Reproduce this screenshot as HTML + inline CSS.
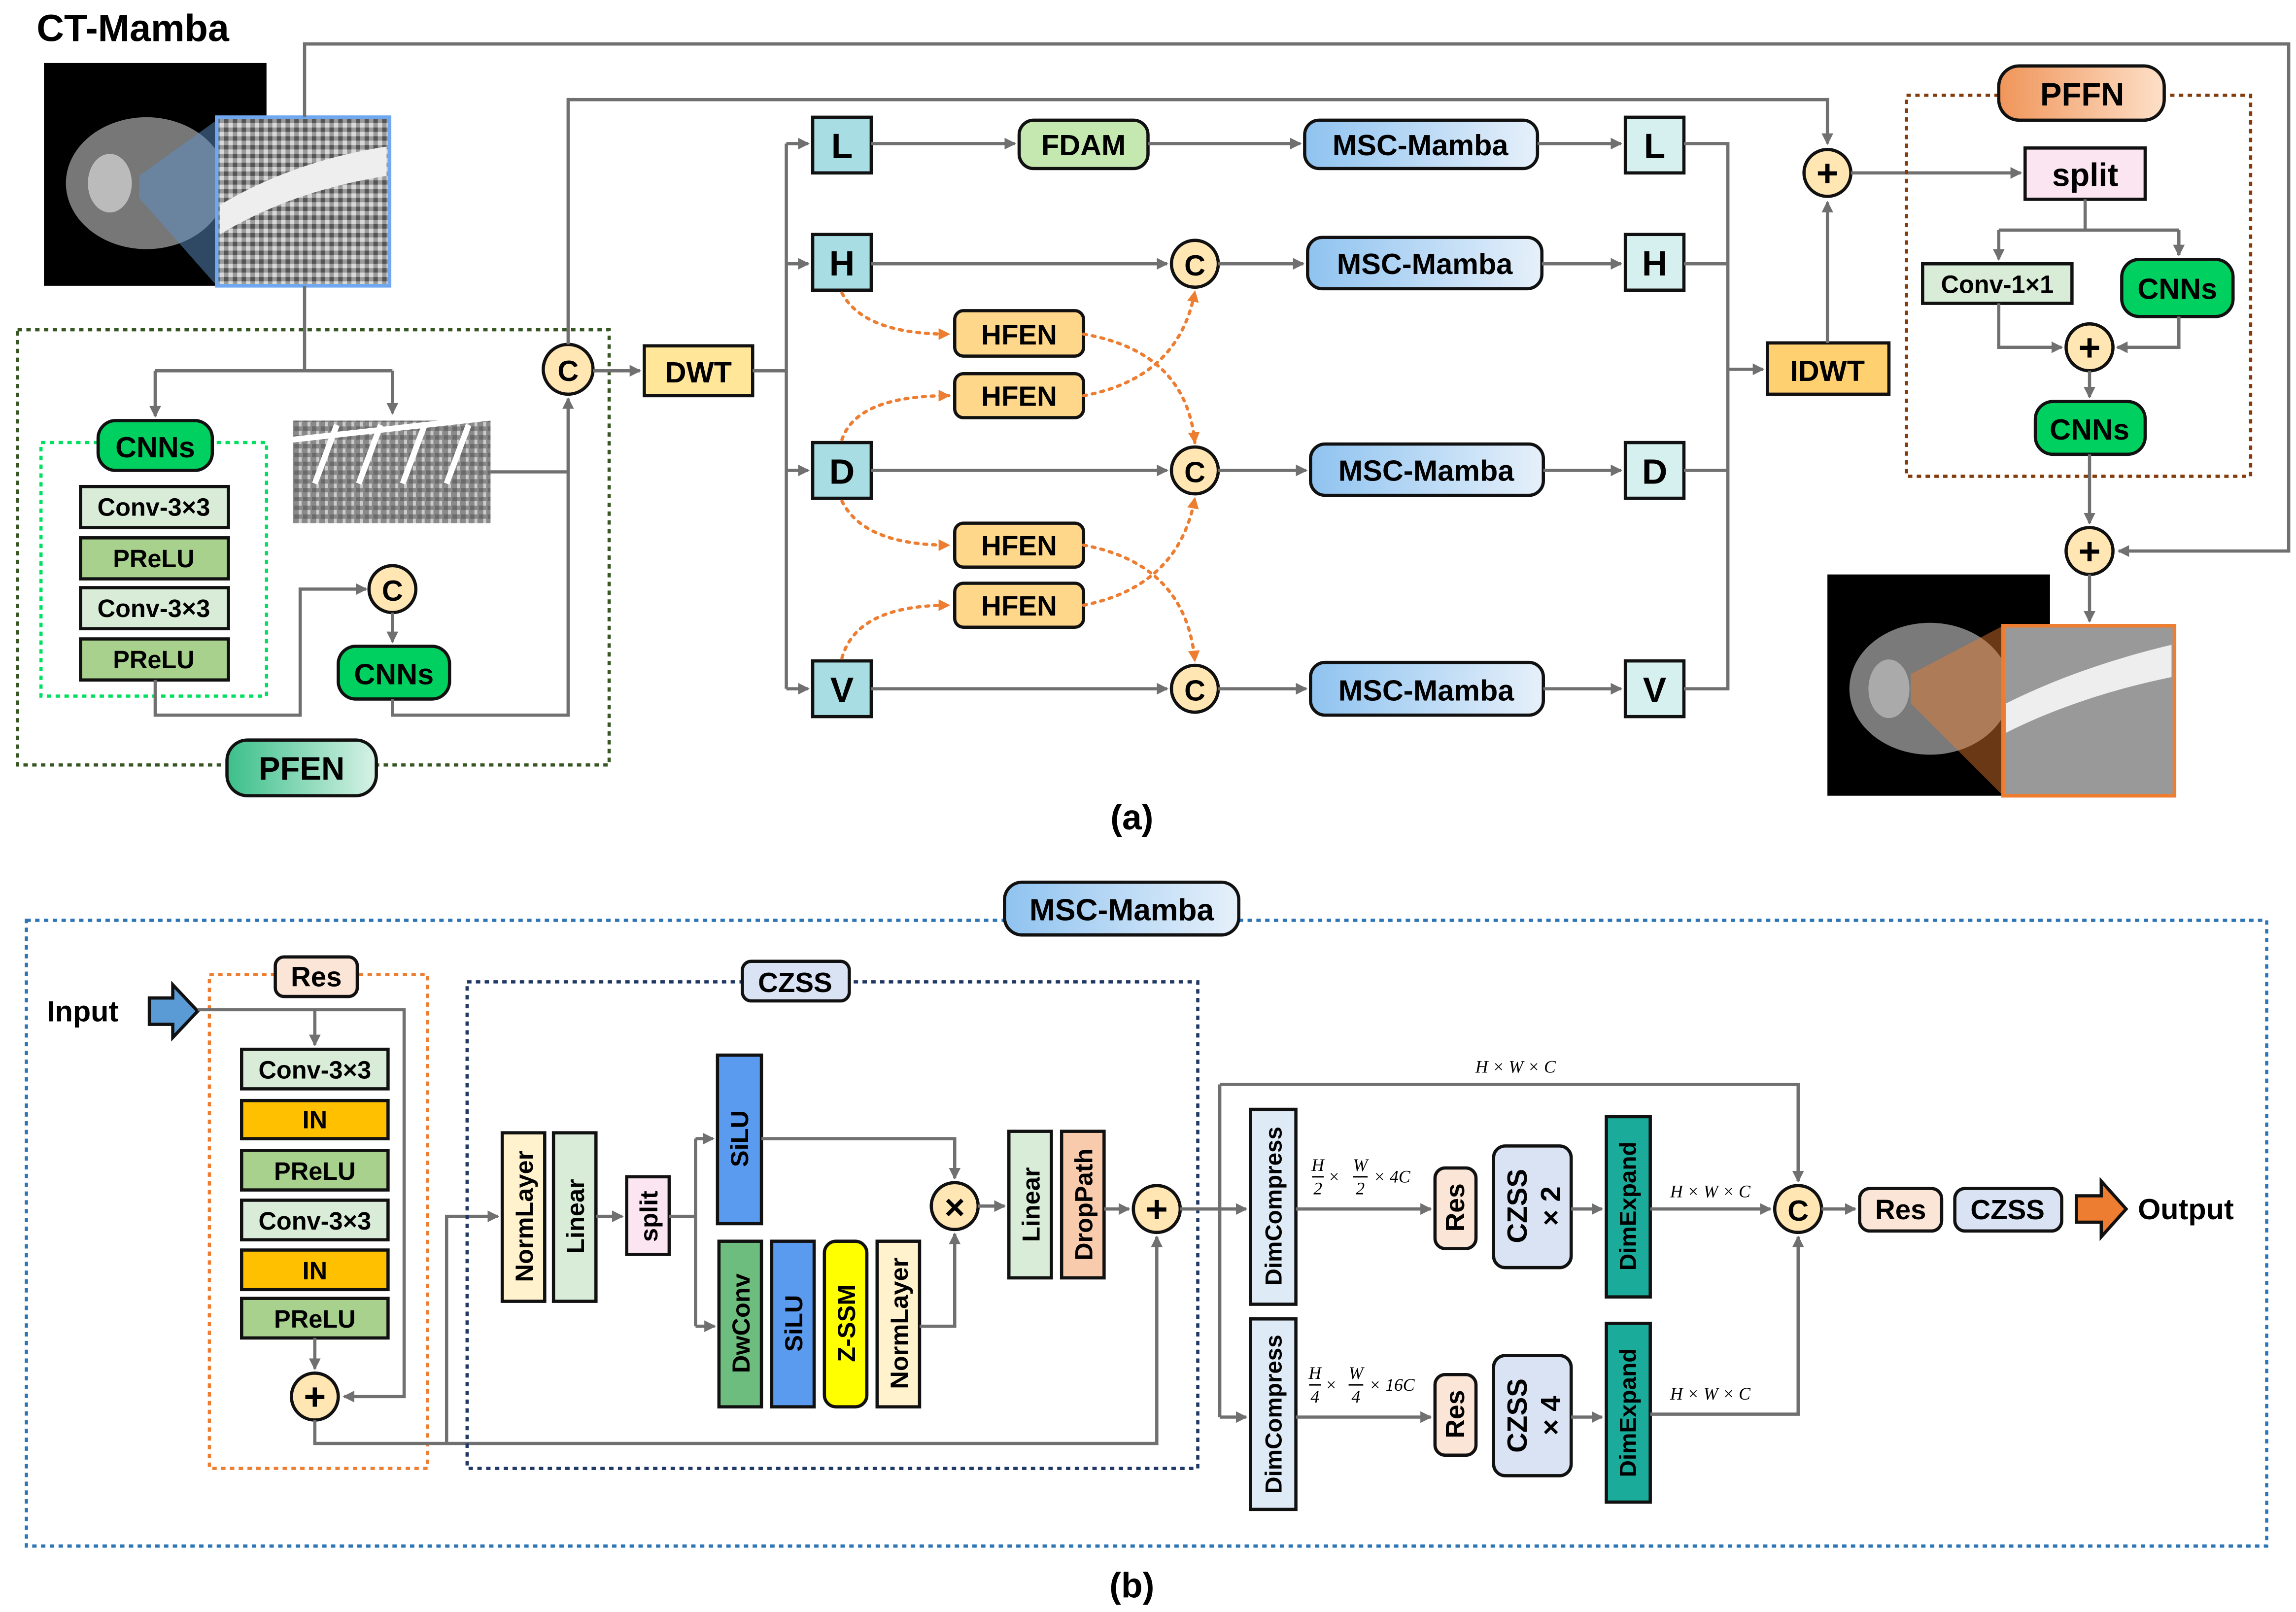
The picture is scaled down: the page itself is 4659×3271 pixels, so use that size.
<!DOCTYPE html>
<html><head><meta charset="utf-8"><style>
html,body{margin:0;padding:0;background:#fff}
svg{display:block}
text{font-family:"Liberation Sans",sans-serif;font-weight:bold;fill:#000}
.l{stroke:#707070;stroke-width:2.2;fill:none}
.o{stroke:#ed7d31;stroke-width:2.2;fill:none;stroke-dasharray:2,4;stroke-linecap:round}
.b{stroke:#111;stroke-width:2.2}
.it{font-family:"Liberation Serif",serif;font-style:italic;font-weight:normal;font-size:12px}
.fb{stroke:#000;stroke-width:1}
</style></head><body>
<svg width="4659" height="3271" viewBox="0 0 1568 1100" preserveAspectRatio="none" xmlns="http://www.w3.org/2000/svg">
<defs>
<marker id="a" markerWidth="8" markerHeight="8" refX="7" refY="4" orient="auto" markerUnits="userSpaceOnUse"><path d="M0,0 L8,4 L0,8 z" fill="#707070"/></marker>
<marker id="ao" markerWidth="8" markerHeight="8" refX="7" refY="4" orient="auto" markerUnits="userSpaceOnUse"><path d="M0,0 L8,4 L0,8 z" fill="#ed7d31"/></marker>
<linearGradient id="msc" x1="0" x2="1"><stop offset="0" stop-color="#8fc3f0"/><stop offset="1" stop-color="#e6f0fa"/></linearGradient>
<linearGradient id="pfen" x1="0" x2="1"><stop offset="0" stop-color="#3cbf8a"/><stop offset="1" stop-color="#d6f2e6"/></linearGradient>
<linearGradient id="pffn" x1="0" x2="1"><stop offset="0" stop-color="#f0955a"/><stop offset="1" stop-color="#fde0c8"/></linearGradient>
<pattern id="noise" width="6" height="6" patternUnits="userSpaceOnUse"><rect width="6" height="6" fill="#9a9a9a"/><rect width="3" height="3" fill="#d8d8d8"/><rect x="3" y="3" width="3" height="3" fill="#555"/></pattern>
<pattern id="noise2" width="6" height="6" patternUnits="userSpaceOnUse"><rect width="6" height="6" fill="#8a8a8a"/><rect width="2" height="3" fill="#ccc"/><rect x="3" y="3" width="3" height="3" fill="#6a6a6a"/></pattern>
</defs>

<text x="25" y="28" font-size="26">CT-Mamba</text>
<rect x="30" y="43" width="152" height="152" fill="#000"/>
<ellipse cx="100" cy="125" rx="55" ry="45" fill="#777"/>
<ellipse cx="75" cy="125" rx="15" ry="20" fill="#bbb"/>
<path d="M95,120 L148,82 L148,195 L95,135 z" fill="#5e8fc8" opacity="0.5"/>
<rect x="148" y="80" width="118" height="115" fill="url(#noise)" stroke="#6fa8f0" stroke-width="2.5"/>
<path d="M150,140 Q200,110 264,100 L264,120 Q200,130 150,160 z" fill="#eee"/>

<polyline class="l" points="208,80 208,30 1563,30 1563,376 1447,376" marker-end="url(#a)"/>

<rect x="12" y="225" width="404" height="297" fill="none" stroke="#375623" stroke-width="2.2" stroke-dasharray="3,3"/>
<rect x="28" y="302" width="154" height="173" fill="none" stroke="#00e060" stroke-width="2.2" stroke-dasharray="3,3"/>
<polyline class="l" points="208,195 208,253"/>
<polyline class="l" points="106,253 268,253"/>
<polyline class="l" points="106,253 106,284" marker-end="url(#a)"/>
<polyline class="l" points="268,253 268,282" marker-end="url(#a)"/>
<rect x="67" y="287" width="78" height="34" rx="12" fill="#00d060" class="b"/>
<text x="106" y="312" font-size="20" text-anchor="middle">CNNs</text>
<rect x="55" y="332" width="101" height="28" fill="#d8ecd8" class="b"/><text x="105" y="352" font-size="17" text-anchor="middle">Conv-3×3</text>
<rect x="55" y="367" width="101" height="28" fill="#a9d18e" class="b"/><text x="105" y="387" font-size="17" text-anchor="middle">PReLU</text>
<rect x="55" y="401" width="101" height="28" fill="#d8ecd8" class="b"/><text x="105" y="421" font-size="17" text-anchor="middle">Conv-3×3</text>
<rect x="55" y="436" width="101" height="28" fill="#a9d18e" class="b"/><text x="105" y="456" font-size="17" text-anchor="middle">PReLU</text>
<polyline class="l" points="106,464 106,488 205,488 205,402 250,402" marker-end="url(#a)"/>
<g>
<rect x="200" y="287" width="135" height="70" fill="url(#noise2)"/>
<path d="M200,300 L335,285 M215,330 L230,290 M245,330 L260,290 M275,330 L290,290 M305,330 L320,290" stroke="#fff" stroke-width="4"/>
</g>
<polyline class="l" points="335,322 388,322"/>
<circle cx="268" cy="402" r="16" fill="#ffe6b3" class="b"/><text x="268" y="410" font-size="20" text-anchor="middle">C</text>
<polyline class="l" points="268,418 268,438" marker-end="url(#a)"/>
<rect x="231" y="441" width="76" height="36" rx="12" fill="#00d060" class="b"/>
<text x="269" y="467" font-size="20" text-anchor="middle">CNNs</text>
<polyline class="l" points="268,477 268,488 388,488 388,272" marker-end="url(#a)"/>
<rect x="155" y="505" width="102" height="38" rx="14" fill="url(#pfen)" class="b"/>
<text x="206" y="532" font-size="22" text-anchor="middle">PFEN</text>

<circle cx="388" cy="252" r="17" fill="#ffe6b3" class="b"/><text x="388" y="260" font-size="20" text-anchor="middle">C</text>
<polyline class="l" points="388,235 388,68 1248,68 1248,98" marker-end="url(#a)"/>
<polyline class="l" points="405,253 437,253" marker-end="url(#a)"/>
<rect x="440" y="236" width="74" height="34" fill="#ffe699" class="b"/><text x="477" y="261" font-size="20" text-anchor="middle">DWT</text>

<polyline class="l" points="514,253 537,253"/>
<polyline class="l" points="537,98 537,470"/>
<polyline class="l" points="537,98 552,98" marker-end="url(#a)"/>
<polyline class="l" points="537,180 552,180" marker-end="url(#a)"/>
<polyline class="l" points="537,321 552,321" marker-end="url(#a)"/>
<polyline class="l" points="537,470 552,470" marker-end="url(#a)"/>
<rect x="555" y="80" width="40" height="38" fill="#a8dde3" class="b"/><text x="575" y="108" text-anchor="middle" font-size="24">L</text>
<rect x="555" y="160" width="40" height="38" fill="#a8dde3" class="b"/><text x="575" y="188" text-anchor="middle" font-size="24">H</text>
<rect x="555" y="302" width="40" height="38" fill="#a8dde3" class="b"/><text x="575" y="330" text-anchor="middle" font-size="24">D</text>
<rect x="555" y="451" width="40" height="38" fill="#a8dde3" class="b"/><text x="575" y="479" text-anchor="middle" font-size="24">V</text>
<polyline class="l" points="595,98 693,98" marker-end="url(#a)"/>
<rect x="696" y="82" width="88" height="33" rx="10" fill="#c5e8b0" class="b"/><text x="740" y="106" font-size="20" text-anchor="middle">FDAM</text>
<polyline class="l" points="784,98 888,98" marker-end="url(#a)"/>
<polyline class="l" points="595,180 797,180" marker-end="url(#a)"/>
<polyline class="l" points="595,321 797,321" marker-end="url(#a)"/>
<polyline class="l" points="595,470 797,470" marker-end="url(#a)"/>
<circle cx="816" cy="180" r="16" fill="#ffe6b3" class="b"/><text x="816" y="188" font-size="20" text-anchor="middle">C</text>
<circle cx="816" cy="321" r="16" fill="#ffe6b3" class="b"/><text x="816" y="329" font-size="20" text-anchor="middle">C</text>
<circle cx="816" cy="470" r="16" fill="#ffe6b3" class="b"/><text x="816" y="478" font-size="20" text-anchor="middle">C</text>
<polyline class="l" points="832,180 890,180" marker-end="url(#a)"/>
<polyline class="l" points="832,321 892,321" marker-end="url(#a)"/>
<polyline class="l" points="832,470 892,470" marker-end="url(#a)"/>
<rect x="891" y="82" width="159" height="33" rx="10" fill="url(#msc)" class="b"/><text x="970" y="106" font-size="20" text-anchor="middle">MSC-Mamba</text>
<rect x="893" y="162" width="160" height="35" rx="10" fill="url(#msc)" class="b"/><text x="973" y="187" font-size="20" text-anchor="middle">MSC-Mamba</text>
<rect x="895" y="303" width="159" height="35" rx="10" fill="url(#msc)" class="b"/><text x="974" y="328" font-size="20" text-anchor="middle">MSC-Mamba</text>
<rect x="895" y="452" width="159" height="36" rx="10" fill="url(#msc)" class="b"/><text x="974" y="478" font-size="20" text-anchor="middle">MSC-Mamba</text>
<polyline class="l" points="1050,98 1107,98" marker-end="url(#a)"/>
<polyline class="l" points="1053,180 1107,180" marker-end="url(#a)"/>
<polyline class="l" points="1054,321 1107,321" marker-end="url(#a)"/>
<polyline class="l" points="1054,470 1107,470" marker-end="url(#a)"/>
<rect x="1110" y="80" width="40" height="38" fill="#d5f0ee" class="b"/><text x="1130" y="108" text-anchor="middle" font-size="24">L</text>
<rect x="1110" y="160" width="40" height="38" fill="#d5f0ee" class="b"/><text x="1130" y="188" text-anchor="middle" font-size="24">H</text>
<rect x="1110" y="302" width="40" height="38" fill="#d5f0ee" class="b"/><text x="1130" y="330" text-anchor="middle" font-size="24">D</text>
<rect x="1110" y="451" width="40" height="38" fill="#d5f0ee" class="b"/><text x="1130" y="479" text-anchor="middle" font-size="24">V</text>
<polyline class="l" points="1150,98 1180,98 1180,470 1150,470"/>
<polyline class="l" points="1150,180 1180,180"/><polyline class="l" points="1150,321 1180,321"/>
<polyline class="l" points="1180,252 1204,252" marker-end="url(#a)"/>

<rect x="652" y="212" width="88" height="31" rx="6" fill="#ffd78a" class="b"/><text x="696" y="235" font-size="19" text-anchor="middle">HFEN</text>
<rect x="652" y="255" width="88" height="30" rx="6" fill="#ffd78a" class="b"/><text x="696" y="277" font-size="19" text-anchor="middle">HFEN</text>
<rect x="652" y="357" width="88" height="30" rx="6" fill="#ffd78a" class="b"/><text x="696" y="379" font-size="19" text-anchor="middle">HFEN</text>
<rect x="652" y="398" width="88" height="30" rx="6" fill="#ffd78a" class="b"/><text x="696" y="420" font-size="19" text-anchor="middle">HFEN</text>
<path class="o" d="M575,200 Q590,228 648,228" marker-end="url(#ao)"/>
<path class="o" d="M740,228 Q810,240 816,302" marker-end="url(#ao)"/>
<path class="o" d="M575,300 Q585,270 648,270" marker-end="url(#ao)"/>
<path class="o" d="M740,270 Q805,258 816,199" marker-end="url(#ao)"/>
<path class="o" d="M575,342 Q590,372 648,372" marker-end="url(#ao)"/>
<path class="o" d="M740,372 Q810,385 816,451" marker-end="url(#ao)"/>
<path class="o" d="M575,449 Q585,413 648,413" marker-end="url(#ao)"/>
<path class="o" d="M740,413 Q805,400 816,340" marker-end="url(#ao)"/>

<rect x="1207" y="234" width="83" height="35" fill="#ffd070" class="b"/><text x="1248" y="260" font-size="20" text-anchor="middle">IDWT</text>
<polyline class="l" points="1248,234 1248,138" marker-end="url(#a)"/>
<circle cx="1248" cy="118" r="16" fill="#ffe6b3" class="b"/><text x="1248" y="127" font-size="26" text-anchor="middle" font-weight="normal">+</text>
<polyline class="l" points="1264,118 1380,118" marker-end="url(#a)"/>
<rect x="1302" y="65" width="235" height="260" fill="none" stroke="#843c0c" stroke-width="2.2" stroke-dasharray="3,3"/>
<rect x="1365" y="45" width="113" height="37" rx="14" fill="url(#pffn)" class="b"/><text x="1422" y="72" font-size="22" text-anchor="middle">PFFN</text>
<rect x="1383" y="101" width="82" height="35" fill="#fbe5f0" class="b"/><text x="1424" y="127" font-size="22" text-anchor="middle">split</text>
<polyline class="l" points="1424,136 1424,157"/>
<polyline class="l" points="1365,157 1488,157"/>
<polyline class="l" points="1365,157 1365,177" marker-end="url(#a)"/>
<polyline class="l" points="1488,157 1488,174" marker-end="url(#a)"/>
<rect x="1313" y="180" width="102" height="27" fill="#d8ecd8" class="b"/><text x="1364" y="200" font-size="17" text-anchor="middle">Conv-1×1</text>
<rect x="1449" y="177" width="76" height="39" rx="12" fill="#00d060" class="b"/><text x="1487" y="204" font-size="20" text-anchor="middle">CNNs</text>
<polyline class="l" points="1365,207 1365,237 1408,237" marker-end="url(#a)"/>
<polyline class="l" points="1488,216 1488,237 1446,237" marker-end="url(#a)"/>
<circle cx="1427" cy="237" r="16" fill="#ffe6b3" class="b"/><text x="1427" y="246" font-size="26" text-anchor="middle" font-weight="normal">+</text>
<polyline class="l" points="1427,253 1427,271" marker-end="url(#a)"/>
<rect x="1390" y="274" width="75" height="36" rx="12" fill="#00d060" class="b"/><text x="1427" y="300" font-size="20" text-anchor="middle">CNNs</text>
<polyline class="l" points="1427,310 1427,357" marker-end="url(#a)"/>
<circle cx="1427" cy="376" r="16" fill="#ffe6b3" class="b"/><text x="1427" y="385" font-size="26" text-anchor="middle" font-weight="normal">+</text>
<polyline class="l" points="1427,392 1427,424" marker-end="url(#a)"/>
<rect x="1248" y="392" width="152" height="151" fill="#000"/>
<ellipse cx="1318" cy="470" rx="55" ry="45" fill="#7a7a7a"/>
<ellipse cx="1290" cy="470" rx="14" ry="20" fill="#aaa"/>
<path d="M1305,460 L1368,427 L1368,543 L1305,480 z" fill="#ed7d31" opacity="0.45"/>
<rect x="1368" y="427" width="117" height="116" fill="#999" stroke="#ed7d31" stroke-width="2.5"/>
<path d="M1370,480 Q1420,455 1483,440 L1483,462 Q1420,475 1370,500 z" fill="#eee"/>
<text x="773" y="566" font-size="24" text-anchor="middle">(a)</text>

<rect x="18" y="628" width="1530" height="427" fill="none" stroke="#2e75b6" stroke-width="2.2" stroke-dasharray="3,3"/>
<rect x="686" y="602" width="160" height="36" rx="12" fill="url(#msc)" class="b"/><text x="766" y="628" font-size="21" text-anchor="middle">MSC-Mamba</text>
<text x="32" y="697" font-size="20">Input</text>
<path d="M102,681 L118,681 L118,672 L135,690 L118,708 L118,699 L102,699 z" fill="#5b9bd5" class="b"/>
<rect x="143" y="665" width="149" height="337" fill="none" stroke="#ed7d31" stroke-width="2.2" stroke-dasharray="3,3"/>
<rect x="188" y="653" width="56" height="27" rx="6" fill="#fbe5d6" class="b"/><text x="216" y="673" font-size="19" text-anchor="middle">Res</text>
<polyline class="l" points="135,689 276,689 276,953 235,953" marker-end="url(#a)"/>
<polyline class="l" points="215,689 215,713" marker-end="url(#a)"/>
<rect x="165" y="716" width="100" height="27" fill="#d8ecd8" class="b"/><text x="215" y="736" font-size="17" text-anchor="middle">Conv-3×3</text>
<rect x="165" y="751" width="100" height="26" fill="#ffc000" class="b"/><text x="215" y="770" font-size="17" text-anchor="middle">IN</text>
<rect x="165" y="785" width="100" height="27" fill="#a9d18e" class="b"/><text x="215" y="805" font-size="17" text-anchor="middle">PReLU</text>
<rect x="165" y="819" width="100" height="27" fill="#d8ecd8" class="b"/><text x="215" y="839" font-size="17" text-anchor="middle">Conv-3×3</text>
<rect x="165" y="853" width="100" height="27" fill="#ffc000" class="b"/><text x="215" y="873" font-size="17" text-anchor="middle">IN</text>
<rect x="165" y="886" width="100" height="27" fill="#a9d18e" class="b"/><text x="215" y="906" font-size="17" text-anchor="middle">PReLU</text>
<polyline class="l" points="215,913 215,934" marker-end="url(#a)"/>
<circle cx="215" cy="953" r="16" fill="#ffe6b3" class="b"/><text x="215" y="962" font-size="26" text-anchor="middle" font-weight="normal">+</text>
<polyline class="l" points="215,969 215,985 790,985 790,844" marker-end="url(#a)"/>
<polyline class="l" points="305,985 305,830 340,830" marker-end="url(#a)"/>

<rect x="319" y="670" width="499" height="332" fill="none" stroke="#203864" stroke-width="2.2" stroke-dasharray="3,3"/>
<rect x="507" y="656" width="73" height="27" rx="6" fill="#dae3f3" class="b"/><text x="543" y="677" font-size="19" text-anchor="middle">CZSS</text>

<rect x="343" y="773" width="29" height="115" fill="#fff2cc" class="b"/><text transform="translate(358,830) rotate(-90)" font-size="17" text-anchor="middle" dominant-baseline="central">NormLayer</text>
<rect x="378" y="773" width="29" height="115" fill="#d8ecd8" class="b"/><text transform="translate(393,830) rotate(-90)" font-size="17" text-anchor="middle" dominant-baseline="central">Linear</text>
<polyline class="l" points="407,830 425,830" marker-end="url(#a)"/>
<rect x="428" y="803" width="29" height="53" fill="#fbe5f0" class="b"/><text transform="translate(443,830) rotate(-90)" font-size="17" text-anchor="middle" dominant-baseline="central">split</text>
<polyline class="l" points="457,830 475,830"/>
<polyline class="l" points="475,777 475,905"/>
<polyline class="l" points="475,777 487,777" marker-end="url(#a)"/>
<polyline class="l" points="475,905 488,905" marker-end="url(#a)"/>
<rect x="490" y="720" width="30" height="115" fill="#5b9bef" class="b"/><text transform="translate(505,777) rotate(-90)" font-size="17" text-anchor="middle" dominant-baseline="central">SiLU</text>
<rect x="491" y="847" width="29" height="113" fill="#6dbd7e" class="b"/><text transform="translate(506,903) rotate(-90)" font-size="17" text-anchor="middle" dominant-baseline="central">DwConv</text>
<rect x="527" y="847" width="29" height="113" fill="#5b9bef" class="b"/><text transform="translate(542,903) rotate(-90)" font-size="17" text-anchor="middle" dominant-baseline="central">SiLU</text>
<rect x="563" y="847" width="29" height="113" rx="8" fill="#ffff00" class="b"/><text transform="translate(578,903) rotate(-90)" font-size="17" text-anchor="middle" dominant-baseline="central">Z-SSM</text>
<rect x="599" y="847" width="29" height="113" fill="#fff2cc" class="b"/><text transform="translate(614,903) rotate(-90)" font-size="17" text-anchor="middle" dominant-baseline="central">NormLayer</text>
<polyline class="l" points="628,905 652,905 652,842" marker-end="url(#a)"/>
<polyline class="l" points="520,777 652,777 652,804" marker-end="url(#a)"/>
<circle cx="652" cy="823" r="16" fill="#ffe6b3" class="b"/><text x="652" y="832" font-size="24" text-anchor="middle" font-weight="normal">×</text>
<polyline class="l" points="668,823 686,823" marker-end="url(#a)"/>
<rect x="689" y="772" width="29" height="100" fill="#d8ecd8" class="b"/><text transform="translate(704,822) rotate(-90)" font-size="17" text-anchor="middle" dominant-baseline="central">Linear</text>
<rect x="725" y="772" width="29" height="100" fill="#f8cbad" class="b"/><text transform="translate(740,822) rotate(-90)" font-size="17" text-anchor="middle" dominant-baseline="central">DropPath</text>
<polyline class="l" points="754,825 771,825" marker-end="url(#a)"/>
<circle cx="790" cy="825" r="16" fill="#ffe6b3" class="b"/><text x="790" y="834" font-size="26" text-anchor="middle" font-weight="normal">+</text>
<polyline class="l" points="806,825 833,825"/>
<polyline class="l" points="833,740 833,967"/>
<polyline class="l" points="833,740 1228,740 1228,806" marker-end="url(#a)"/>
<text x="1035" y="732" class="it" text-anchor="middle">H × W × C</text>
<polyline class="l" points="833,825 851,825" marker-end="url(#a)"/>
<polyline class="l" points="833,967 851,967" marker-end="url(#a)"/>

<rect x="854" y="757" width="31" height="133" fill="#deebf7" class="b"/><text transform="translate(870,823) rotate(-90)" font-size="16" text-anchor="middle" dominant-baseline="central">DimCompress</text>
<rect x="854" y="900" width="31" height="130" fill="#deebf7" class="b"/><text transform="translate(870,965) rotate(-90)" font-size="16" text-anchor="middle" dominant-baseline="central">DimCompress</text>
<g>
<text x="900" y="799" class="it" text-anchor="middle">H</text><line class="fb" x1="896" y1="803" x2="904" y2="803"/><text x="900" y="815" class="it" text-anchor="middle">2</text>
<text x="911" y="807" class="it" text-anchor="middle">×</text>
<text x="929" y="799" class="it" text-anchor="middle">W</text><line class="fb" x1="924" y1="803" x2="934" y2="803"/><text x="929" y="815" class="it" text-anchor="middle">2</text>
<text x="938" y="807" class="it">× 4C</text>
</g>
<g>
<text x="898" y="941" class="it" text-anchor="middle">H</text><line class="fb" x1="894" y1="945" x2="902" y2="945"/><text x="898" y="957" class="it" text-anchor="middle">4</text>
<text x="909" y="949" class="it" text-anchor="middle">×</text>
<text x="926" y="941" class="it" text-anchor="middle">W</text><line class="fb" x1="921" y1="945" x2="931" y2="945"/><text x="926" y="957" class="it" text-anchor="middle">4</text>
<text x="935" y="949" class="it">× 16C</text>
</g>
<polyline class="l" points="885,825 977,825" marker-end="url(#a)"/>
<polyline class="l" points="885,967 977,967" marker-end="url(#a)"/>
<rect x="980" y="797" width="28" height="55" rx="7" fill="#fbe5d6" class="b"/><text transform="translate(994,824) rotate(-90)" font-size="18" text-anchor="middle" dominant-baseline="central">Res</text>
<rect x="980" y="938" width="28" height="55" rx="7" fill="#fbe5d6" class="b"/><text transform="translate(994,965) rotate(-90)" font-size="18" text-anchor="middle" dominant-baseline="central">Res</text>
<rect x="1020" y="782" width="53" height="83" rx="8" fill="#dae3f3" class="b"/><text transform="translate(1036,823) rotate(-90)" font-size="19" text-anchor="middle" dominant-baseline="central">CZSS</text><text transform="translate(1059,823) rotate(-90)" font-size="19" text-anchor="middle" dominant-baseline="central">× 2</text>
<rect x="1020" y="925" width="53" height="82" rx="8" fill="#dae3f3" class="b"/><text transform="translate(1036,966) rotate(-90)" font-size="19" text-anchor="middle" dominant-baseline="central">CZSS</text><text transform="translate(1059,966) rotate(-90)" font-size="19" text-anchor="middle" dominant-baseline="central">× 4</text>
<polyline class="l" points="1073,825 1094,825" marker-end="url(#a)"/>
<polyline class="l" points="1073,967 1094,967" marker-end="url(#a)"/>
<rect x="1097" y="762" width="30" height="123" fill="#1aab9b" class="b"/><text transform="translate(1112,823) rotate(-90)" font-size="16" text-anchor="middle" dominant-baseline="central">DimExpand</text>
<rect x="1097" y="903" width="30" height="122" fill="#1aab9b" class="b"/><text transform="translate(1112,964) rotate(-90)" font-size="16" text-anchor="middle" dominant-baseline="central">DimExpand</text>
<text x="1168" y="817" class="it" text-anchor="middle">H × W × C</text>
<text x="1168" y="955" class="it" text-anchor="middle">H × W × C</text>
<polyline class="l" points="1127,825 1209,825" marker-end="url(#a)"/>
<polyline class="l" points="1127,965 1228,965 1228,844" marker-end="url(#a)"/>
<circle cx="1228" cy="825" r="16" fill="#ffe6b3" class="b"/><text x="1228" y="833" font-size="20" text-anchor="middle">C</text>
<polyline class="l" points="1244,825 1267,825" marker-end="url(#a)"/>
<rect x="1270" y="811" width="56" height="29" rx="7" fill="#fbe5d6" class="b"/><text x="1298" y="832" font-size="19" text-anchor="middle">Res</text>
<rect x="1335" y="811" width="73" height="29" rx="7" fill="#dae3f3" class="b"/><text x="1371" y="832" font-size="19" text-anchor="middle">CZSS</text>
<path d="M1418,816 L1435,816 L1435,806 L1452,825 L1435,844 L1435,834 L1418,834 z" fill="#ed7d31" class="b"/>
<text x="1460" y="832" font-size="20">Output</text>
<text x="773" y="1090" font-size="24" text-anchor="middle">(b)</text>
</svg>
</body></html>
